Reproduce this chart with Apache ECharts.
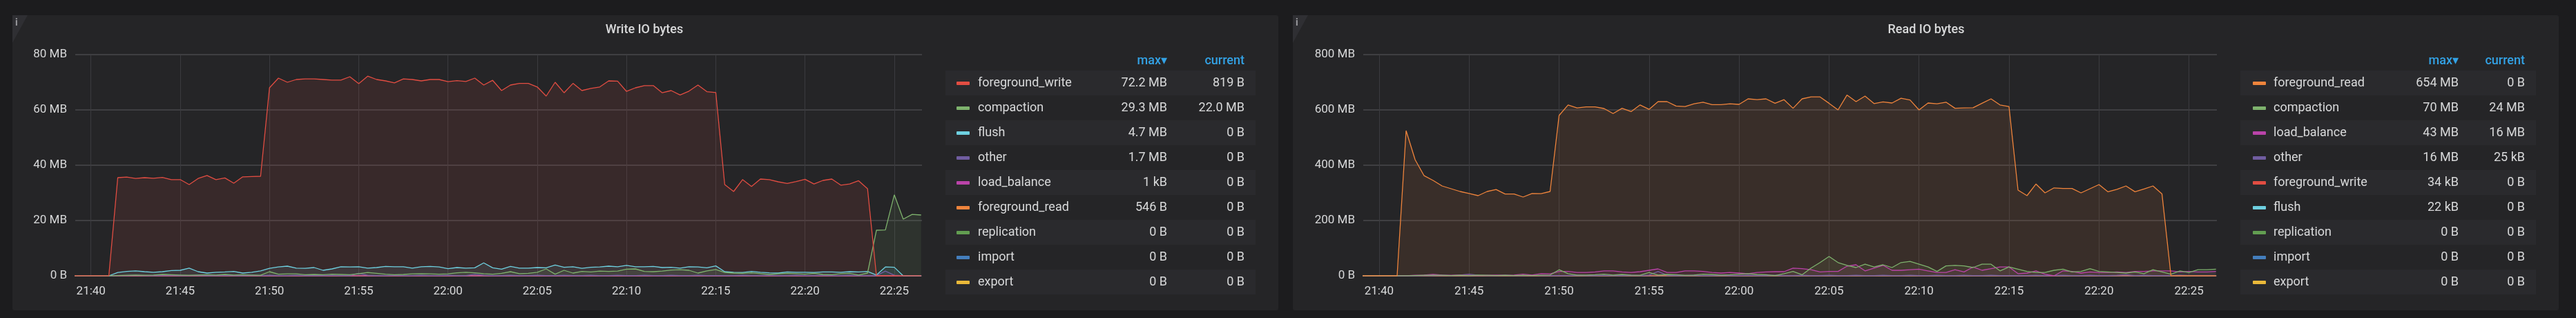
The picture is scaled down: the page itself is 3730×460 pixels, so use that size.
<!DOCTYPE html>
<html><head><meta charset="utf-8">
<script src="https://cdn.jsdelivr.net/npm/echarts@6/dist/echarts.min.js"></script>
<style>html,body{margin:0;padding:0;background:#1c1c1e;}#c{width:3730px;height:460px;}</style>
</head><body><div id="c"></div>
<script>
// time axis: minutes after 21:00, samples every 30 s starting at 21:39
const T0 = 39, STEP = 0.5;
const xTicks = [40,45,50,55,60,65,70,75,80,85];
const writeTicks = [0,20,40,60,80];
const readTicks = [0,200,400,600,800];

// ---- Write IO bytes (MB) ----
const w_foreground_write = [0,0,0,0,0,35.5,
35.7,35.2,35.5,35.3,35.6,34.8,34.8,33,35.2,36.3,34.8,35.4,33.5,35.8,35.9,36,
68,71.5,70,71,71.2,71.2,71,70.8,70.8,72,69.5,72.2,71,70.5,69.8,71.2,71,70.5,71,71,70.2,70.6,70.3,71.5,69,70.7,67,69,69.6,69.6,68.3,65,70,66.2,69.6,67,67.8,68.3,70.5,70.4,66.7,68,68.8,68.8,66.2,67,65.4,66.8,69,66.6,66.3,
33,30.5,34.8,32.3,35,34.8,34,33.4,34.1,34.9,33.2,34.5,35,32.8,33.2,34.4,31.5,
0,0,0,0,0,0];
const w_compaction = [0,0,0,0,0,
0.1,0.2,0.3,0.2,0.3,0.5,0.4,0.3,0.2,0.3,0.4,0.3,0.5,0.3,0.4,0.3,0.2,
1.5,0.6,0.7,0.7,0.4,0.5,0.4,0.6,0.5,0.4,0.8,1.2,0.9,0.6,0.4,0.5,0.7,0.8,0.7,0.6,0.7,1.1,1.3,1.1,0.8,0.6,0.9,1.5,0.8,0.9,1.3,2.5,0.6,2.0,1.0,1.6,1.4,1.7,1.6,1.7,2.4,2.5,1.6,1.5,1.7,2.1,2.2,2.0,1.0,1.8,2.3,
1.2,1.0,0.9,1.1,0.8,0.5,0.7,0.9,0.8,0.6,0.9,0.5,0.4,0.8,0.9,0.3,1.0,
16.5,16.6,29.3,20.5,22.2,22.0];
const w_flush = [0,0,0,0,0,
1.2,1.6,1.8,1.5,1.3,1.5,1.9,2.0,2.8,1.5,1.0,1.3,1.4,1.6,1.0,1.3,1.8,
2.7,3.2,3.5,2.8,2.7,3.0,2.0,2.5,3.3,3.2,3.3,2.8,3.0,3.4,3.3,3.3,2.8,3.3,3.4,3.2,2.6,3.0,2.8,2.9,4.7,2.9,2.4,3.4,2.8,2.8,3.0,2.9,3.9,3.1,3.3,2.7,3.1,3.2,3.5,3.3,3.8,3.3,3.3,3.4,3.0,3.1,2.8,3.3,3.2,2.9,3.6,
1.5,1.3,1.2,1.6,1.3,1.1,1.0,1.4,1.3,1.3,1.2,1.4,1.4,1.3,1.5,1.4,1.6,
0.3,3.2,3.1,0,0,0];
const w_other = [0,0,0,0,0,
0.1,0.1,0.2,0.1,0.1,0.2,0.3,0.1,0.1,0.2,0.1,0.1,0.2,0.1,0.1,0.2,0.1,
0.2,0.1,0.1,0.2,0.1,0.1,0.1,0.2,0.1,0.1,0.9,0.2,0.1,0.1,0.2,0.1,0.1,0.2,0.1,0.1,0.2,0.1,0.1,0.6,0.2,0.1,0.1,0.2,0.1,0.1,0.2,0.1,0.1,0.2,0.1,0.1,0.2,0.1,0.1,0.2,0.1,0.1,0.2,0.1,0.1,0.2,0.1,0.1,0.2,0.1,0.1,
0.1,0.1,0.2,0.1,0.1,0.2,0.1,0.1,0.2,0.1,0.1,0.2,0.1,0.1,0.2,0.1,0.1,
0.1,1.7,0.2,0,0,0];
const w_load_balance = [0,0,0,0,0,0,0,0,0,0,0,0,0,0,0,0,0,0,0,0,0,0,0,0,0,0,0,0,0,0,0,0,0,0,0,0,0,0,0,0,0,0,0,0,0,0,0,0,0,0,0,0,0,0,0,0,0,0,0,0,0,0,0,0,0,0,0,0,0,0,0,0,0,0,0,0,0,0,0,0,0,0,0,0,0,0,0,0,0,0,0,0,0,0,0,0];
const w_foreground_read = [0,0,0,0,0,0,0,0,0,0,0,0,0,0,0,0,0,0,0,0,0,0,0,0,0,0,0,0,0,0,0,0,0,0,0,0,0,0,0,0,0,0,0,0,0,0,0,0,0,0,0,0,0,0,0,0,0,0,0,0,0,0,0,0,0,0,0,0,0,0,0,0,0,0,0,0,0,0,0,0,0,0,0,0,0,0,0,0,0,0,0,0,0,0,0,0];
const w_replication = [0,0,0,0,0,0,0,0,0,0,0,0,0,0,0,0,0,0,0,0,0,0,0,0,0,0,0,0,0,0,0,0,0,0,0,0,0,0,0,0,0,0,0,0,0,0,0,0,0,0,0,0,0,0,0,0,0,0,0,0,0,0,0,0,0,0,0,0,0,0,0,0,0,0,0,0,0,0,0,0,0,0,0,0,0,0,0,0,0,0,0,0,0,0,0,0];
const w_import = w_replication;
const w_export = w_replication;

// ---- Read IO bytes (MB) ----
const r_foreground_read = [0,0,0,0,0,525,
420,362,345,325,315,305,298,290,305,312,296,296,285,298,297,305,
580,618,607,611,611,605,587,606,594,618,602,630,630,614,612,622,628,619,619,622,620,640,637,640,624,637,606,640,647,647,624,600,654,630,650,623,629,625,642,636,600,625,622,628,606,607,608,624,640,618,612,
310,290,332,300,318,316,316,300,315,330,304,313,325,304,314,325,296,
0,0,0,0,0,0];
const r_compaction = [0,0,0,0,0,
0,1,2,2,2,1,2,1,3,2,1,2,1,2,1,2,3,
22,8,3,3,4,6,3,5,3,2,12,3,5,4,2,3,6,5,3,4,6,8,5,4,1,8,16,4,28,48,70,48,38,30,42,32,40,30,48,52,42,32,16,36,38,36,30,42,42,18,32,
24,16,12,12,20,24,14,16,26,16,14,12,10,14,8,22,14,
6,18,12,22,22,24];
const r_load_balance = [0,0,0,0,0,
0,2,3,5,3,2,3,2,1,2,3,2,3,6,3,8,7,
16,16,12,12,14,18,18,14,12,15,20,25,12,12,18,18,16,12,10,12,10,8,12,14,15,15,28,26,22,14,16,16,35,40,18,28,38,20,20,22,24,18,12,12,22,14,32,20,26,32,32,
8,10,18,6,0,18,16,10,14,12,12,14,12,16,16,18,18,
18,14,16,14,14,16];
const r_other = [0,0,0,0,0,
0,0,1,1,2,1,3,6,2,1,1,2,1,1,2,1,1,
1,1,2,1,1,2,1,1,2,1,3,16,2,1,1,2,1,1,2,1,1,2,1,1,2,1,1,2,1,1,2,1,1,2,1,1,2,1,1,2,1,1,2,1,1,2,1,1,2,1,1,
1,1,2,1,1,2,1,1,2,1,1,2,4,1,2,1,1,
1,2,1,1,1,0];
const r_foreground_write = w_load_balance;
const r_flush = w_load_balance;
const r_replication = w_replication;
const r_import = w_replication;
const r_export = w_replication;

// ---- legends ----
const W_NAMES = ['foreground_write','compaction','flush','other','load_balance','foreground_read','replication','import','export'];
const W_MAX = ['72.2 MB','29.3 MB','4.7 MB','1.7 MB','1 kB','546 B','0 B','0 B','0 B'];
const W_CUR = ['819 B','22.0 MB','0 B','0 B','0 B','0 B','0 B','0 B','0 B'];
const R_NAMES = ['foreground_read','compaction','load_balance','other','foreground_write','flush','replication','import','export'];
const R_MAX = ['654 MB','70 MB','43 MB','16 MB','34 kB','22 kB','0 B','0 B','0 B'];
const R_CUR = ['0 B','24 MB','16 MB','25 kB','0 B','0 B','0 B','0 B','0 B'];

const COLORS = {foreground_write:'#E24D42',compaction:'#7EB26D',flush:'#6ED0E0',other:'#705DA0',load_balance:'#BA43A9',foreground_read:'#EF843C',replication:'#629E51',import:'#447EBC',export:'#EAB839'};
const W_DATA = {foreground_write:w_foreground_write,compaction:w_compaction,flush:w_flush,other:w_other,load_balance:w_load_balance,foreground_read:w_foreground_read,replication:w_replication,import:w_import,export:w_export};
const R_DATA = {foreground_read:r_foreground_read,compaction:r_compaction,load_balance:r_load_balance,other:r_other,foreground_write:r_foreground_write,flush:r_flush,replication:r_replication,import:r_import,export:r_export};

const FONT = 'Roboto, "Noto Sans", sans-serif';
const TXT = '#d8d9da';

function pairs(arr){ return arr.map((v,i)=>[T0+i*STEP, v]); }
function fmtT(v){ const h = v>=60?22:21; const m = Math.round(v - (h-21)*60); return h+':'+(m<10?'0':'')+m; }

function axes(gi, ticks){
  return {
    x:{type:'value',gridIndex:gi,min:39.12,max:86.55,
      axisLine:{show:false},axisTick:{show:false,customValues:xTicks},
      axisLabel:{customValues:xTicks,formatter:fmtT,color:TXT,fontFamily:FONT,fontSize:17,margin:14},
      splitLine:{show:true,lineStyle:{color:'#3b3b3f',width:1}}},
    y:{type:'value',gridIndex:gi,min:0,max:ticks[ticks.length-1],interval:ticks[1],
      axisLine:{show:false},axisTick:{show:false},
      axisLabel:{formatter:v=>v===0?'0 B':v+' MB',color:TXT,fontFamily:FONT,fontSize:17,margin:12},
      splitLine:{show:true,lineStyle:{color:'#48484c',width:1.5}}}
  };
}
const a0 = axes(0, writeTicks), a1 = axes(1, readTicks);

const series = [];
function addSeries(names, data, gi){
  names.slice().reverse().forEach(n=>{
    series.push({type:'line',name:n,xAxisIndex:gi,yAxisIndex:gi,data:pairs(data[n]),
      showSymbol:false,symbol:'none',color:COLORS[n],lineStyle:{width:1.3,color:COLORS[n]},
      areaStyle:{color:COLORS[n],opacity:0.1},silent:true});
  });
}
addSeries(W_NAMES, W_DATA, 0);
addSeries(R_NAMES, R_DATA, 1);

const graphic = [];
function panel(x, w, title, titleX){
  graphic.push({type:'rect',shape:{x:x,y:22,width:w,height:427,r:3},style:{fill:'#252527'},z:-10});
  graphic.push({type:'polygon',shape:{points:[[x,22],[x+22,22],[x,62]]},style:{fill:'#2f2f33'},z:-9});
  graphic.push({type:'text',x:x+4,y:26,style:{text:'i',fill:'#9a9a9e',font:'bold 14px '+FONT},z:-8});
  graphic.push({type:'text',x:titleX,y:43,style:{text:title,fill:TXT,font:'500 18px '+FONT,align:'center',verticalAlign:'middle'}});
}
function legend(names, maxs, curs, bgX, bgW, swX, nameX, maxR, curR){
  graphic.push({type:'text',x:maxR,y:88,style:{text:'max▾',fill:'#33a2e5',font:'500 18px '+FONT,align:'right',verticalAlign:'middle'}});
  graphic.push({type:'text',x:curR,y:88,style:{text:'current',fill:'#33a2e5',font:'500 18px '+FONT,align:'right',verticalAlign:'middle'}});
  names.forEach((n,i)=>{
    const cy = 120 + 36*i;
    if(i%2===0) graphic.push({type:'rect',shape:{x:bgX,y:cy-18,width:bgW,height:36},style:{fill:'#2a2a2d'},z:-5});
    graphic.push({type:'rect',shape:{x:swX,y:cy-2,width:19,height:5,r:1},style:{fill:COLORS[n]}});
    graphic.push({type:'text',x:nameX,y:cy,style:{text:n,fill:TXT,font:'18px '+FONT,verticalAlign:'middle'}});
    graphic.push({type:'text',x:maxR,y:cy,style:{text:maxs[i],fill:TXT,font:'18px '+FONT,align:'right',verticalAlign:'middle'}});
    graphic.push({type:'text',x:curR,y:cy,style:{text:curs[i],fill:TXT,font:'18px '+FONT,align:'right',verticalAlign:'middle'}});
  });
}
panel(18, 1833, 'Write IO bytes', 933);
panel(1872, 1833, 'Read IO bytes', 2789);
legend(W_NAMES, W_MAX, W_CUR, 1369, 449, 1385, 1416, 1690, 1802);
legend(R_NAMES, R_MAX, R_CUR, 3244, 428, 3262, 3292, 3560, 3656);

const chart = echarts.init(document.getElementById('c'), null, {renderer:'canvas'});
chart.setOption({
  backgroundColor:'#1c1c1e',
  animation:false,
  grid:[{left:109,width:1226,top:79,height:320},{left:1974,width:1236,top:79,height:320}],
  xAxis:[a0.x,a1.x],
  yAxis:[a0.y,a1.y],
  graphic:graphic,
  series:series
});
</script></body></html>
